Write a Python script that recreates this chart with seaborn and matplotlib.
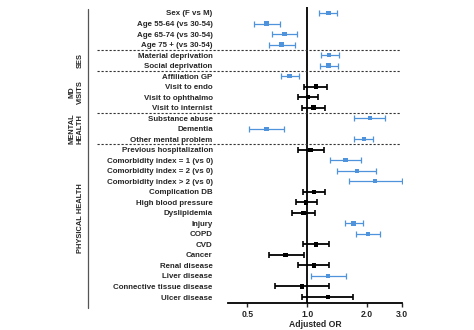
import matplotlib
matplotlib.use("Agg")
import matplotlib.pyplot as plt
import seaborn as sns
import pandas as pd
import numpy as np
from matplotlib.ticker import FixedLocator, FixedFormatter, NullLocator

labels = ["Sex (F vs M)", "Age 55-64 (vs 30-54)", "Age 65-74 (vs 30-54)", "Age 75 + (vs 30-54)",
          "Material deprivation", "Social deprivation", "Affiliation GP", "Visit to endo",
          "Visit to ophthalmo", "Visit to internist", "Substance abuse", "Dementia",
          "Other mental problem", "Previous hospitalization", "Comorbidity index = 1 (vs 0)",
          "Comorbidity index = 2 (vs 0)", "Comorbidity index > 2 (vs 0)", "Complication DB",
          "High blood pressure", "Dyslipidemia", "Injury", "COPD", "CVD", "Cancer",
          "Renal disease", "Liver disease", "Connective tissue disease", "Ulcer disease"]
odds = [1.28, 0.625, 0.77, 0.743, 1.29, 1.28, 0.815, 1.11, 1.01, 1.076, 2.07, 0.625, 1.93, 1.04,
        1.56, 1.78, 2.20, 1.08, 0.99, 0.96, 1.71, 2.02, 1.11, 0.78, 1.08, 1.27, 0.94, 1.27]
ci_low = [1.15, 0.538, 0.665, 0.64, 1.17, 1.16, 0.738, 0.97, 0.90, 0.944, 1.73, 0.513, 1.73, 0.90,
          1.31, 1.41, 1.63, 0.95, 0.88, 0.84, 1.55, 1.77, 0.955, 0.64, 0.90, 1.04, 0.69, 0.944]
ci_high = [1.42, 0.73, 0.894, 0.874, 1.44, 1.43, 0.91, 1.26, 1.135, 1.23, 2.46, 0.764, 2.15, 1.21,
           1.87, 2.22, 3.0, 1.23, 1.12, 1.09, 1.90, 2.32, 1.29, 0.96, 1.29, 1.56, 1.29, 1.71]
significant = [1, 1, 1, 1, 1, 1, 1, 0, 0, 0, 1, 1, 1, 0, 1, 1, 1, 0, 0, 0, 1, 1, 0, 0, 0, 1, 0, 0]
group_names = ["SES", "MD\nVISITS", "MENTAL\nHEALTH", "PHYSICAL HEALTH"]
group_first = [4, 6, 10, 13]
group_last = [5, 9, 12, 26]
separators_after = [3, 5, 9, 12]
x_ticks = [0.5, 1.0, 2.0, 3.0]
x_ticklabels = ["0.5", "1.0", "2.0", "3.0"]

sns.set_style("white")
plt.rcParams['font.family'] = ['Liberation Sans', 'DejaVu Sans']

BLUE = "#4f93dc"
df = pd.DataFrame({"label": labels, "odds": odds, "lo": ci_low, "hi": ci_high,
                   "sig": ["yes" if s else "no" for s in significant]})
df["row"] = np.arange(len(df))

W, H = 474, 330
fig = plt.figure(figsize=(W / 100, H / 100), dpi=100)
ax = fig.add_axes([228 / W, 1 - 303 / H, 174 / W, (303 - 7) / H])

ax.set_xscale("log")
ax.set_xlim(0.4, 3.0)
pitch = 10.52
ax.set_ylim(27 + 6 / pitch, -6 / pitch)

# reference line at OR=1
ax.axvline(1.0, color="black", lw=1.3, zorder=1)

for _, r in df.iterrows():
    sig = r["sig"] == "yes"
    col = BLUE if sig else "black"
    ax.errorbar(r["odds"], r["row"], xerr=[[r["odds"] - r["lo"]], [r["hi"] - r["odds"]]],
                fmt="none", ecolor=col, elinewidth=0.9 if sig else 1.3,
                capsize=2.2, capthick=0.9 if sig else 1.2, zorder=2)

sns.scatterplot(data=df, x="odds", y="row", hue="sig", palette={"yes": BLUE, "no": "black"},
                marker="s", s=10, linewidth=0, legend=False, ax=ax, zorder=3)

# separators
ytr = ax.get_yaxis_transform()
for s in separators_after:
    ax.plot([(97 - 228) / 174, (400 - 228) / 174], [s + 0.5, s + 0.5], transform=ytr,
            color="#333333", lw=0.8, ls=(0, (2, 1.6)), clip_on=False)

# left group line
ax.plot([(88 - 228) / 174] * 2, [-4 / pitch, 27 + 11 / pitch], transform=ytr,
        color="#555555", lw=0.9, clip_on=False)

for name, a, b in zip(group_names, group_first, group_last):
    ax.text((84 - 228) / 174, (a + b) / 2, name, transform=ytr, rotation=90,
            ha="right", va="center", fontsize=5.4, fontweight="bold",
            multialignment="center", clip_on=False)

ax.set_yticks(df["row"])
ax.set_yticklabels(labels, fontsize=5.7, fontweight="bold")
ax.tick_params(axis="y", length=0, pad=11)

ax.xaxis.set_major_locator(FixedLocator(x_ticks))
ax.xaxis.set_major_formatter(FixedFormatter(x_ticklabels))
ax.xaxis.set_minor_locator(NullLocator())
ax.tick_params(axis="x", length=3, width=1, direction="out", labelsize=6.2, pad=2, bottom=True)
for t in ax.get_xticklabels():
    t.set_fontweight("bold")
ax.set_xlabel("Adjusted OR", fontsize=6.2, fontweight="bold", labelpad=1)
ax.set_ylabel("")

for sp in ["left", "top", "right"]:
    ax.spines[sp].set_visible(False)
ax.spines["bottom"].set_linewidth(1.3)
ax.spines["bottom"].set_color("black")
ax.grid(False)

fig.savefig("out.png", dpi=100)
